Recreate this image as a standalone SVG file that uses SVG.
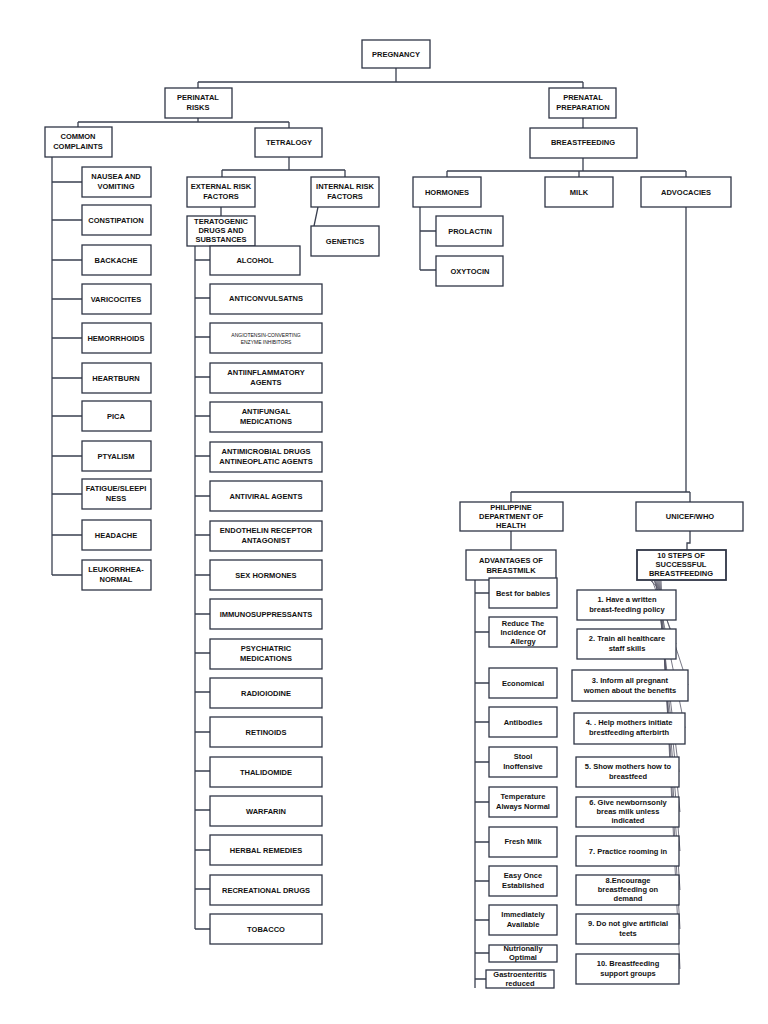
<svg xmlns="http://www.w3.org/2000/svg" width="768" height="1024" viewBox="0 0 768 1024">
<style>
rect{fill:#fff;stroke:#2f3545;stroke-width:1.3}
text{font-family:"Liberation Sans",Arial,sans-serif;font-weight:bold;font-size:7.5px;fill:#111;text-anchor:middle}
.c path,.c line{fill:none;stroke:#3a4050;stroke-width:1.3}
.f line{stroke:#556;stroke-width:0.8}
.s{font-size:5px;font-weight:normal}
</style>
<rect x="0" y="0" width="768" height="1024" style="fill:#fff;stroke:none"/>
<g class="c">
<path d="M396 68V82M198 82H583M198 82V88M583 82V88"/>
<path d="M198 118V122M78 122H289M78 122V127M289 122V128"/>
<path d="M52 157V575"/>
<path d="M52 182H82M52 220H82M52 260H82M52 299H82M52 338H82M52 378H82M52 416H82M52 456H82M52 494H82M52 535H82M52 575H82"/>
<path d="M289 157V170M222 170H345M222 170V177M345 170V177M318 207L314 226M221 207V216"/>
<path d="M195 246V929"/>
<path d="M195 260H210M195 298H210M195 337H210M195 377H210M195 416H210M195 456H210M195 496H210M195 535H210M195 575H210M195 614H210M195 653H210M195 692H210M195 732H210M195 771H210M195 810H210M195 850H210M195 889H210M195 929H210"/>
<path d="M583 118V128M583 158V171M447 171H686M447 171V177M579 171V177M686 171V177"/>
<path d="M420 207V270M420 231H436M420 270H436"/>
<path d="M686 207V492M511 492H690M511 492V502M690 492V502"/>
<path d="M690 531V543H687V550"/>
<path d="M511 531V550M475 580V988"/>
<path d="M475 593H489M475 632H489M475 683H489M475 722H489M475 762H489M475 802H489M475 842H489M475 881H489M475 920H489M475 953H489M475 979H486"/>
</g>
<g class="c f">
<line x1="650" y1="580" x2="676" y2="605"/><line x1="652" y1="580" x2="676" y2="644"/>
<line x1="654" y1="580" x2="688" y2="685"/><line x1="655" y1="580" x2="685" y2="728"/>
<line x1="656" y1="580" x2="679" y2="772"/><line x1="657" y1="580" x2="680" y2="812"/>
<line x1="658" y1="580" x2="680" y2="851"/><line x1="659" y1="580" x2="680" y2="890"/>
<line x1="660" y1="580" x2="680" y2="929"/><line x1="661" y1="580" x2="680" y2="969"/>
</g>
<g id="pregnancy"><rect x="362" y="40" width="68" height="28"/><text x="396" y="57">PREGNANCY</text></g>
<g id="perinatal"><rect x="165" y="88" width="67" height="30"/><text x="198" y="100">PERINATAL</text><text x="198" y="110">RISKS</text></g>
<g id="prenatal"><rect x="549" y="88" width="67" height="30"/><text x="583" y="100">PRENATAL</text><text x="583" y="110">PREPARATION</text></g>
<g id="common"><rect x="45" y="127" width="67" height="30"/><text x="78" y="139">COMMON</text><text x="78" y="149">COMPLAINTS</text></g>
<g id="tetralogy"><rect x="255" y="128" width="67" height="29"/><text x="289" y="145">TETRALOGY</text></g>
<g id="cc1"><rect x="82" y="167" width="69" height="30"/><text x="116" y="179">NAUSEA AND</text><text x="116" y="189">VOMITING</text></g>
<g id="cc2"><rect x="82" y="205" width="69" height="30"/><text x="116" y="223">CONSTIPATION</text></g>
<g id="cc3"><rect x="82" y="245" width="69" height="30"/><text x="116" y="263">BACKACHE</text></g>
<g id="cc4"><rect x="82" y="284" width="69" height="30"/><text x="116" y="302">VARICOCITES</text></g>
<g id="cc5"><rect x="82" y="323" width="69" height="30"/><text x="116" y="341">HEMORRHOIDS</text></g>
<g id="cc6"><rect x="82" y="363" width="69" height="30"/><text x="116" y="381">HEARTBURN</text></g>
<g id="cc7"><rect x="82" y="401" width="69" height="30"/><text x="116" y="419">PICA</text></g>
<g id="cc8"><rect x="82" y="441" width="69" height="30"/><text x="116" y="459">PTYALISM</text></g>
<g id="cc9"><rect x="82" y="479" width="69" height="30"/><text x="116" y="491">FATIGUE/SLEEPI</text><text x="116" y="501">NESS</text></g>
<g id="cc10"><rect x="82" y="520" width="69" height="30"/><text x="116" y="538">HEADACHE</text></g>
<g id="cc11"><rect x="82" y="560" width="69" height="30"/><text x="116" y="572">LEUKORRHEA-</text><text x="116" y="582">NORMAL</text></g>
<g id="external"><rect x="187" y="177" width="68" height="30"/><text x="221" y="189">EXTERNAL RISK</text><text x="221" y="199">FACTORS</text></g>
<g id="internal"><rect x="311" y="177" width="68" height="30"/><text x="345" y="189">INTERNAL RISK</text><text x="345" y="199">FACTORS</text></g>
<g id="genetics"><rect x="311" y="226" width="68" height="30"/><text x="345" y="244">GENETICS</text></g>
<g id="teratogenic"><rect x="187" y="216" width="68" height="30"/><text x="221" y="224">TERATOGENIC</text><text x="221" y="233">DRUGS AND</text><text x="221" y="242">SUBSTANCES</text></g>
<g id="t1"><rect x="210" y="246" width="90" height="29"/><text x="255" y="263">ALCOHOL</text></g>
<g id="t2"><rect x="210" y="284" width="112" height="30"/><text x="266" y="301">ANTICONVULSATNS</text></g>
<g id="t3"><rect x="210" y="323" width="112" height="30"/><text class="s" x="266" y="337">ANGIOTENSIN-CONVERTING</text><text class="s" x="266" y="344">ENZYME INHIBITORS</text></g>
<g id="t4"><rect x="210" y="363" width="112" height="30"/><text x="266" y="375">ANTIINFLAMMATORY</text><text x="266" y="385">AGENTS</text></g>
<g id="t5"><rect x="210" y="402" width="112" height="30"/><text x="266" y="414">ANTIFUNGAL</text><text x="266" y="424">MEDICATIONS</text></g>
<g id="t6"><rect x="210" y="442" width="112" height="30"/><text x="266" y="454">ANTIMICROBIAL DRUGS</text><text x="266" y="464">ANTINEOPLATIC AGENTS</text></g>
<g id="t7"><rect x="210" y="481" width="112" height="30"/><text x="266" y="499">ANTIVIRAL AGENTS</text></g>
<g id="t8"><rect x="210" y="521" width="112" height="30"/><text x="266" y="533">ENDOTHELIN RECEPTOR</text><text x="266" y="543">ANTAGONIST</text></g>
<g id="t9"><rect x="210" y="560" width="112" height="30"/><text x="266" y="578">SEX HORMONES</text></g>
<g id="t10"><rect x="210" y="599" width="112" height="30"/><text x="266" y="617">IMMUNOSUPPRESSANTS</text></g>
<g id="t11"><rect x="210" y="639" width="112" height="30"/><text x="266" y="651">PSYCHIATRIC</text><text x="266" y="661">MEDICATIONS</text></g>
<g id="t12"><rect x="210" y="678" width="112" height="30"/><text x="266" y="696">RADIOIODINE</text></g>
<g id="t13"><rect x="210" y="717" width="112" height="30"/><text x="266" y="735">RETINOIDS</text></g>
<g id="t14"><rect x="210" y="757" width="112" height="30"/><text x="266" y="775">THALIDOMIDE</text></g>
<g id="t15"><rect x="210" y="796" width="112" height="30"/><text x="266" y="814">WARFARIN</text></g>
<g id="t16"><rect x="210" y="835" width="112" height="30"/><text x="266" y="853">HERBAL REMEDIES</text></g>
<g id="t17"><rect x="210" y="875" width="112" height="30"/><text x="266" y="893">RECREATIONAL DRUGS</text></g>
<g id="t18"><rect x="210" y="914" width="112" height="30"/><text x="266" y="932">TOBACCO</text></g>
<g id="breastfeeding"><rect x="530" y="128" width="107" height="30"/><text x="583" y="145">BREASTFEEDING</text></g>
<g id="hormones"><rect x="413" y="177" width="68" height="30"/><text x="447" y="195">HORMONES</text></g>
<g id="milk"><rect x="545" y="177" width="68" height="30"/><text x="579" y="195">MILK</text></g>
<g id="advocacies"><rect x="641" y="177" width="90" height="30"/><text x="686" y="195">ADVOCACIES</text></g>
<g id="prolactin"><rect x="436" y="216" width="67" height="30"/><text x="470" y="234">PROLACTIN</text></g>
<g id="oxytocin"><rect x="436" y="256" width="67" height="30"/><text x="470" y="274">OXYTOCIN</text></g>
<g id="doh"><rect x="460" y="502" width="103" height="29"/><text x="511" y="510">PHILIPPINE</text><text x="511" y="519">DEPARTMENT OF</text><text x="511" y="528">HEALTH</text></g>
<g id="unicef"><rect x="636" y="502" width="107" height="29"/><text x="690" y="519">UNICEF/WHO</text></g>
<g id="advantages"><rect x="466" y="550" width="90" height="30"/><text x="511" y="563">ADVANTAGES OF</text><text x="511" y="573">BREASTMILK</text></g>
<g id="steps"><rect x="637" y="550" width="89" height="30" style="stroke-width:1.8"/><text x="681" y="558">10 STEPS OF</text><text x="681" y="567">SUCCESSFUL</text><text x="681" y="576">BREASTFEEDING</text></g>
<g id="a1"><rect x="489" y="578" width="68" height="30"/><text x="523" y="596">Best for babies</text></g>
<g id="a2"><rect x="489" y="617" width="68" height="30"/><text x="523" y="626">Reduce The</text><text x="523" y="635">Incidence Of</text><text x="523" y="644">Allergy</text></g>
<g id="a3"><rect x="489" y="668" width="68" height="30"/><text x="523" y="686">Economical</text></g>
<g id="a4"><rect x="489" y="707" width="68" height="30"/><text x="523" y="725">Antibodies</text></g>
<g id="a5"><rect x="489" y="747" width="68" height="30"/><text x="523" y="759">Stool</text><text x="523" y="769">Inoffensive</text></g>
<g id="a6"><rect x="489" y="787" width="68" height="30"/><text x="523" y="799">Temperature</text><text x="523" y="809">Always Normal</text></g>
<g id="a7"><rect x="489" y="827" width="68" height="30"/><text x="523" y="844">Fresh Milk</text></g>
<g id="a8"><rect x="489" y="866" width="68" height="30"/><text x="523" y="878">Easy Once</text><text x="523" y="888">Established</text></g>
<g id="a9"><rect x="489" y="905" width="68" height="30"/><text x="523" y="917">Immediately</text><text x="523" y="927">Available</text></g>
<g id="a10"><rect x="489" y="945" width="68" height="17"/><text x="523" y="951">Nutrionally</text><text x="523" y="960">Optimal</text></g>
<g id="a11"><rect x="486" y="970" width="68" height="18"/><text x="520" y="977">Gastroenteritis</text><text x="520" y="986">reduced</text></g>
<g id="s1"><rect x="577" y="590" width="99" height="30"/><text x="627" y="602">1. Have a written</text><text x="627" y="612">breast-feeding policy</text></g>
<g id="s2"><rect x="577" y="629" width="99" height="30"/><text x="627" y="641">2. Train all healthcare</text><text x="627" y="651">staff skills</text></g>
<g id="s3"><rect x="572" y="670" width="116" height="31"/><text x="630" y="683">3. Inform all pregnant</text><text x="630" y="693">women about the benefits</text></g>
<g id="s4"><rect x="574" y="713" width="111" height="31"/><text x="629" y="725">4. . Help mothers initiate</text><text x="629" y="735">brestfeeding afterbirth</text></g>
<g id="s5"><rect x="576" y="757" width="103" height="30"/><text x="628" y="769">5. Show mothers how to</text><text x="628" y="779">breastfeed</text></g>
<g id="s6"><rect x="576" y="797" width="103" height="30"/><text x="628" y="805">6. Give newbornsonly</text><text x="628" y="814">breas milk unless</text><text x="628" y="823">indicated</text></g>
<g id="s7"><rect x="576" y="836" width="103" height="30"/><text x="628" y="854">7. Practice rooming in</text></g>
<g id="s8"><rect x="576" y="875" width="103" height="30"/><text x="628" y="883">8.Encourage</text><text x="628" y="892">breastfeeding on</text><text x="628" y="901">demand</text></g>
<g id="s9"><rect x="576" y="914" width="103" height="30"/><text x="628" y="926">9. Do not give artificial</text><text x="628" y="936">teets</text></g>
<g id="s10"><rect x="576" y="954" width="103" height="30"/><text x="628" y="966">10. Breastfeeding</text><text x="628" y="976">support groups</text></g>
</svg>
